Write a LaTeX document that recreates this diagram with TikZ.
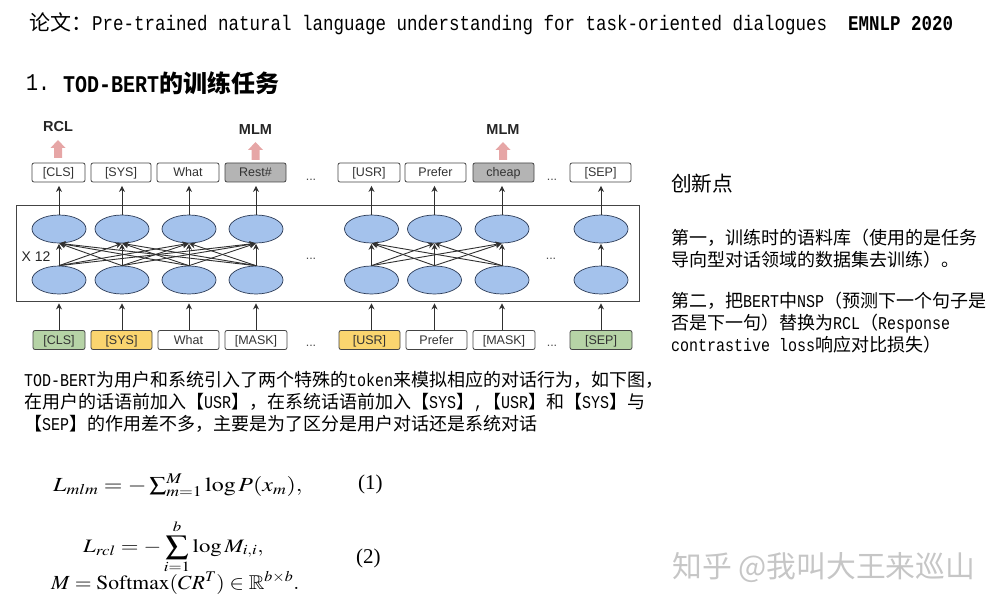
\documentclass[tikz,border=0pt]{standalone}
\usepackage{amssymb}
\usepackage{mathptmx}
\usepackage{fontspec}
\setmainfont{Liberation Serif}
\newfontfamily\cjk{Noto Sans CJK SC}
\newfontfamily\lat[FakeStretch=0.8333]{Liberation Mono}
\newfontfamily\dia{Liberation Sans}
\newcommand{\C}[1]{{\cjk #1}}
\newcommand{\fs}[2]{\fontsize{#1}{#2}\selectfont}
\usetikzlibrary{shapes.geometric,arrows.meta}
\definecolor{edge}{HTML}{444444}
\definecolor{blueE}{HTML}{A4C2EC}
\definecolor{blueD}{HTML}{2B3A55}
\definecolor{greenF}{HTML}{B6D3A6}
\definecolor{yellF}{HTML}{FAD56F}
\definecolor{grayF}{HTML}{B4B4B4}
\definecolor{pinkF}{HTML}{E6A6A6}
\definecolor{mark}{HTML}{C6C6C6}
\tikzset{
 tok/.style={draw=edge,line width=0.8pt,rounded corners=2pt,minimum height=19pt,inner sep=0pt,text height=9pt,text depth=0.6pt,font=\dia\fs{12.5}{14},text=black!80},
 cell/.style={ellipse,draw=blueD,line width=0.7pt,fill=blueE,minimum width=54pt,minimum height=28pt,inner sep=0pt},
 flow/.style={-{Stealth[length=6pt,width=6pt]},draw=edge!70!black,line width=0.9pt},
 cross/.style={flow,line width=0.9pt},
 head/.style={font=\dia\bfseries\fs{14.5}{16},text=black!85,inner sep=0pt},
 dots/.style={font=\dia\fs{12.5}{14},inner sep=0pt,text=black!70},
 line/.style={anchor=west,inner sep=0pt,text=black},
}
\begin{document}
\begin{tikzpicture}[x=1pt,y=-1pt]
\useasboundingbox (0,0) rectangle (1001,609);
% page texts
\node[line,font=\lat\fs{21}{24}] (title) at (29,24) {\C{论文：}Pre-trained natural language understanding for task-oriented dialogues};
\node[line,font=\lat\bfseries\fs{21}{24}] (venue) at (848,24) {EMNLP 2020};
\node[line,font=\lat\fs{24}{28}] (num) at (26,83) {1.};
\node[line,font=\lat\bfseries\fs{24}{28}] (sec) at (63,83) {TOD-BERT{\cjk\bfseries 的训练任务}};
% frame
\node[draw=edge,line width=0.9pt,minimum width=623pt,minimum height=96pt,inner sep=0pt] (frame) at (327.5,253) {};
% outputs
\node[tok,minimum width=53pt] (o1) at (58.5,172.5) {[CLS]};
\node[tok,minimum width=60pt] (o2) at (121,172.5) {[SYS]};
\node[tok,minimum width=62pt] (o3) at (188,172.5) {What};
\node[tok,minimum width=61pt,fill=grayF] (o4) at (255.5,172.5) {Rest\#};
\node[tok,minimum width=62pt] (o5) at (369,172.5) {[USR]};
\node[tok,minimum width=61pt] (o6) at (435.5,172.5) {Prefer};
\node[tok,minimum width=61pt,fill=grayF] (o7) at (503.5,172.5) {cheap};
\node[tok,minimum width=61pt] (o8) at (600.5,172.5) {[SEP]};
% inputs
\node[tok,minimum width=52pt,fill=greenF] (i1) at (59,340) {[CLS]};
\node[tok,minimum width=61pt,fill=yellF] (i2) at (121.5,340) {[SYS]};
\node[tok,minimum width=61pt] (i3) at (188.5,340) {What};
\node[tok,minimum width=62pt] (i4) at (256,340) {[MASK]};
\node[tok,minimum width=61pt,fill=yellF] (i5) at (369.5,340) {[USR]};
\node[tok,minimum width=61pt] (i6) at (436.5,340) {Prefer};
\node[tok,minimum width=62pt] (i7) at (504,340) {[MASK]};
\node[tok,minimum width=62pt,fill=greenF] (i8) at (601,340) {[SEP]};
% cells
\foreach \n/\x in {1/59,2/122,3/189,4/256,5/371.5,6/434.5,7/502,8/601}{
 \node[cell] (t\n) at (\x,229) {};
 \node[cell] (b\n) at (\x,280) {};
}
% links
\foreach \n in {1,...,8}{
 \draw[flow,shorten >=3.5pt] (t\n.north) -- (t\n.north |- o\n.south);
 \draw[flow,shorten >=2pt] (t\n.north |- i\n.north) -- (t\n.north |- frame.south);
 \draw[flow,shorten >=0.5pt] (b\n.north) -- (t\n.south);
}
\foreach \a in {1,2,3,4}{\foreach \c in {1,2,3,4}{
 \ifnum\a=\c\else\draw[cross,shorten >=0.5pt] (b\a.north) -- (t\c.south);\fi
}}
\foreach \a in {5,6,7}{\foreach \c in {5,6,7}{
 \ifnum\a=\c\else\draw[cross,shorten >=0.5pt] (b\a.north) -- (t\c.south);\fi
}}
% block arrows
\foreach \x/\y in {58/158,255.5/160,503/160}{
 \fill[pinkF,shift={(\x,\y)}] (-4,0) -- (-4,-10) -- (-7.5,-10) -- (0,-18) -- (7.5,-10) -- (4,-10) -- (4,0) -- cycle;
}
\node[head] (rcl) at (58,127) {RCL};
\node[head] (m1) at (255.5,130) {MLM};
\node[head] (m2) at (503,130) {MLM};
\node[dots] (d1) at (311,180) {...};
\node[dots] (d2) at (311,259) {...};
\node[dots] (d3) at (311,346) {...};
\node[dots] (d4) at (552,180) {...};
\node[dots] (d5) at (551,259) {...};
\node[dots] (d6) at (552,346) {...};
\node[font=\dia\fs{14}{16},inner sep=0pt,text=black!85] (x12) at (36,257) {X 12};
% paragraph
\node[line,align=left,anchor=north west,font=\lat\fs{18}{22}] (para) at (24,371) {%
TOD-BERT\C{为用户和系统引入了两个特殊的}token\C{来模拟相应的对话行为，如下图，}\\
\C{在用户的话语前加入【}USR\C{】，在系统话语前加入【}SYS\C{】},\C{【}USR\C{】和【}SYS\C{】与}\\
\C{【}SEP\C{】的作用差不多，主要是为了区分是用户对话还是系统对话}};
% right column
\node[line,font=\cjk\fs{20.7}{24}] (nov) at (671,184) {创新点};
\node[line,align=left,anchor=north west,font=\lat\fs{18}{21.8}] (one) at (671,229) {%
\C{第一，训练时的语料库（使用的是任务}\\
\C{导向型对话领域的数据集去训练）。}};
\node[line,align=left,anchor=north west,font=\lat\fs{18}{21.8}] (two) at (671,292) {%
\C{第二，把}BERT\C{中}NSP\C{（预测下一个句子是}\\
\C{否是下一句）替换为}RCL\C{（}Response\\
contrastive loss\C{响应对比损失）}};
% formulas
\node[line,font=\fs{20}{24}] (e1) at (53,485) {\scalebox{1.2}[1]{$L_{mlm}=-\sum_{m=1}^{M}\log P(x_m),$}};
\node[line,font=\fs{21}{24}] (n1) at (358,484) {(1)};
\node[line,font=\fs{19}{24}] (e2) at (83,547) {\scalebox{1.2}[1]{$\displaystyle L_{rcl}=-\sum_{i=1}^{b}\log M_{i,i},$}};
\node[line,font=\fs{20}{24}] (e3) at (51,583) {\scalebox{1.08}[1]{$M=\mathrm{Softmax}(CR^{T})\in\mathbb{R}^{b\times b}.$}};
\node[line,font=\fs{21}{24}] (n2) at (356,558) {(2)};
% watermark
\node[line,font=\cjk\fs{29.8}{32},text=mark] (wm) at (672,568) {知乎 @我叫大王来巡山};
\end{tikzpicture}
\end{document}
